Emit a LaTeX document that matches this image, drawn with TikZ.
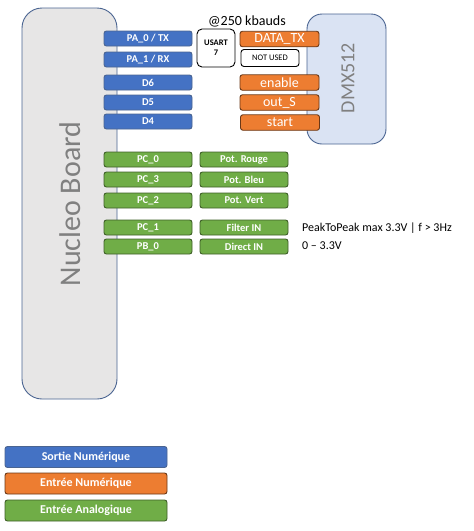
\documentclass[tikz,border=0pt]{standalone}
\usepackage{fontspec}
\setmainfont{Carlito}
\definecolor{pinblue}{HTML}{4472C4}
\definecolor{pinorange}{HTML}{ED7D31}
\definecolor{pingreen}{HTML}{70AD47}
\definecolor{boardgray}{HTML}{E7E6E6}
\definecolor{dmxblue}{HTML}{DAE3F3}
\definecolor{edgeblue}{HTML}{4A6491}
\tikzset{
	pin/.style={draw, rounded corners=2.5pt, inner sep=0pt, line width=0.9pt, text=white, font=\fontsize{10.5}{12}\selectfont\bfseries},
	sortie/.style={pin, fill=pinblue, draw=edgeblue, minimum width=88pt, minimum height=15pt},
	entree/.style={pin, fill=pinorange, draw=black!55!pinorange, minimum width=79pt, minimum height=15.5pt, font=\fontsize{14}{16}\selectfont},
	analog/.style={pin, fill=pingreen, draw=black!45!pingreen, minimum width=88pt, minimum height=15pt},
	legend/.style={pin, minimum width=162pt, minimum height=21pt, font=\fontsize{12}{14}\selectfont\bfseries}
}
\begin{document}
\begin{tikzpicture}[x=1pt, y=-1pt]
			\useasboundingbox (0,0) rectangle (474,531);
			% boards
			\node[draw=edgeblue, fill=boardgray, rounded corners=20pt, line width=0.9pt, minimum width=95pt, minimum height=391pt] (Board) at (69.5,203.5) {};
			\node[rotate=90, text=black!50, font=\fontsize{30}{32}\selectfont] (Board_T) at (70,204) {Nucleo Board};
			\node[draw=edgeblue, fill=dmxblue, rounded corners=15pt, line width=0.9pt, minimum width=79pt, minimum height=130pt] (Dmx) at (346.5,79) {};
			\node[rotate=90, text=black!50, font=\fontsize{20}{22}\selectfont] (Dmx_T) at (348,78) {DMX512};
			% serial link
			\node[font=\fontsize{14}{16}\selectfont] (Baud) at (247,21) {@250 kbauds};
			\node[draw, rounded corners=5pt, line width=0.9pt, minimum width=38pt, minimum height=38pt, inner sep=0pt, align=center, font=\fontsize{8.5}{10}\selectfont\bfseries] (Usart) at (216,48) {USART\\7};
			% nucleo side
			\node[sortie] (P_0_0) at (148,38.5) {PA\_0 / TX};
			\node[sortie] (P_0_1) at (148,59.5) {PA\_1 / RX};
			\node[sortie] (P_0_2) at (148,82.5) {D6};
			\node[sortie] (P_0_3) at (148,102.5) {D5};
			\node[sortie] (P_0_4) at (148,121.5) {D4};
			% dmx side
			\node[entree] (P_1_0) at (279.5,39) {DATA\_TX};
			\node[draw, rounded corners=3pt, line width=0.9pt, minimum width=58pt, minimum height=17pt, inner sep=0pt, font=\fontsize{8.5}{10}\selectfont] (P_1_1) at (270,58) {NOT USED};
			\node[entree] (P_1_2) at (279.5,82.5) {enable};
			\node[entree] (P_1_3) at (279.5,102.5) {out\_S};
			\node[entree] (P_1_4) at (280,122.5) {start};
			% analog inputs
			\node[analog] (A_0_0) at (148,159.5) {PC\_0};
			\node[analog] (A_1_0) at (244,159.5) {Pot. Rouge};
			\node[analog] (A_0_1) at (148,179.5) {PC\_3};
			\node[analog] (A_1_1) at (244,179.5) {Pot. Bleu};
			\node[analog] (A_0_2) at (148,200.5) {PC\_2};
			\node[analog] (A_1_2) at (244,200.5) {Pot. Vert};
			\node[analog] (A_0_3) at (148,227.5) {PC\_1};
			\node[analog] (A_1_3) at (244,227.5) {Filter IN};
			\node[analog] (A_0_4) at (148,246.5) {PB\_0};
			\node[analog] (A_1_4) at (244,246.5) {Direct IN};
			\node[anchor=west, inner sep=0pt, font=\fontsize{12}{14}\selectfont] (Note_0) at (302,228) {PeakToPeak max 3.3V | f > 3Hz};
			\node[anchor=west, inner sep=0pt, font=\fontsize{12}{14}\selectfont] (Note_1) at (302,246) {0 – 3.3V};
			% legend
			\node[legend, fill=pinblue, draw=edgeblue] (L_0) at (86,457) {Sortie Numérique};
			\node[legend, fill=pinorange, draw=black!55!pinorange] (L_1) at (86,483.5) {Entrée Numérique};
			\node[legend, fill=pingreen, draw=black!45!pingreen] (L_2) at (86,510.5) {Entrée Analogique};
		\end{tikzpicture}
\end{document}
